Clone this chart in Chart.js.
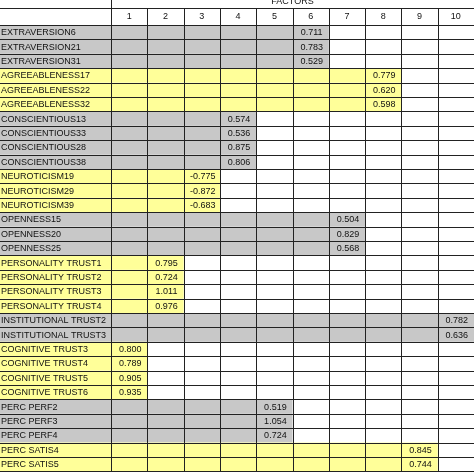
<!DOCTYPE html>
<html><head><meta charset="utf-8">
<script src="https://cdn.jsdelivr.net/npm/chart.js@4"></script>
<style>html,body{margin:0;padding:0;background:#fff}#w{width:474px;height:474px}</style>
</head><body><div id="w"><canvas id="c"></canvas></div>
<script>
const title = "FACTORS";
const factorLabels = ["1","2","3","4","5","6","7","8","9","10"];
const rowLabels = ["EXTRAVERSION6","EXTRAVERSION21","EXTRAVERSION31","AGREEABLENESS17","AGREEABLENESS22","AGREEABLENESS32",
 "CONSCIENTIOUS13","CONSCIENTIOUS33","CONSCIENTIOUS28","CONSCIENTIOUS38","NEUROTICISM19","NEUROTICISM29","NEUROTICISM39",
 "OPENNESS15","OPENNESS20","OPENNESS25","PERSONALITY TRUST1","PERSONALITY TRUST2","PERSONALITY TRUST3","PERSONALITY TRUST4",
 "INSTITUTIONAL TRUST2","INSTITUTIONAL TRUST3","COGNITIVE TRUST3","COGNITIVE TRUST4","COGNITIVE TRUST5","COGNITIVE TRUST6",
 "PERC PERF2","PERC PERF3","PERC PERF4","PERC SATIS4","PERC SATIS5"];
const rowFactor = [6,6,6,8,8,8,4,4,4,4,3,3,3,7,7,7,2,2,2,2,10,10,1,1,1,1,5,5,5,9,9];
const loadings = ["0.711","0.783","0.529","0.779","0.620","0.598","0.574","0.536","0.875","0.806","-0.775","-0.872","-0.683",
 "0.504","0.829","0.568","0.795","0.724","1.011","0.976","0.782","0.636","0.800","0.789","0.905","0.935","0.519","1.054","0.724","0.845","0.744"];
const rowShade = ["g","g","g","y","y","y","g","g","g","g","y","y","y","g","g","g","y","y","y","y","g","g","y","y","y","y","g","g","g","y","y"];
const shadeColors = {g:"#c8c8c8", y:"#ffff99"};
const LABEL_LEFT = -3.06;

const tablePlugin = {
  id:'table',
  beforeDatasetsDraw(chart){
    const {ctx, scales:{x,y}} = chart;
    const X = v=>x.getPixelForValue(v), Y = v=>y.getPixelForValue(v);
    ctx.save();
    // fills
    rowLabels.forEach((r,i)=>{
      ctx.fillStyle = shadeColors[rowShade[i]];
      ctx.fillRect(X(LABEL_LEFT), Y(i), X(rowFactor[i]) - X(LABEL_LEFT), Y(i+1)-Y(i));
    });
    // lines
    ctx.strokeStyle = "#222"; ctx.lineWidth = 1;
    const n = rowLabels.length;
    ctx.beginPath();
    const yHdrTop = -1.74, yNum = -1.15;
    for (let i = 0; i <= n; i++){ const yy=Math.round(Y(i))+0.5; ctx.moveTo(X(LABEL_LEFT),yy); ctx.lineTo(X(10.2),yy); }
    let yy=Math.round(Y(yNum))+0.5; ctx.moveTo(X(LABEL_LEFT),yy); ctx.lineTo(X(10.2),yy);
    for (let c = 0; c <= 10; c++){ const xx=Math.round(X(c))+0.5; ctx.moveTo(xx, c===0?Y(yHdrTop):Y(yNum)); ctx.lineTo(xx, Y(n)); }
    ctx.stroke();
    // text
    ctx.fillStyle = "#111";
    ctx.font = "9px 'Liberation Sans', Arial, sans-serif";
    ctx.textBaseline = "middle";
    ctx.textAlign = "center";
    ctx.fillText(title, X(5), Y(yHdrTop)+2);
    factorLabels.forEach((f,c)=>ctx.fillText(f, X(c+0.5), Y((yNum)/2)));
    ctx.textAlign = "left";
    rowLabels.forEach((r,i)=>ctx.fillText(r, X(LABEL_LEFT)+1, Y(i+0.5)+0.5));
    ctx.restore();
  },
  afterDatasetsDraw(chart){
    const {ctx} = chart;
    const meta = chart.getDatasetMeta(0);
    ctx.save();
    ctx.fillStyle = "#111";
    ctx.font = "9px 'Liberation Sans', Arial, sans-serif";
    ctx.textBaseline = "middle"; ctx.textAlign = "center";
    meta.data.forEach((p,i)=>ctx.fillText(loadings[i], p.x+1, p.y+0.5));
    ctx.restore();
  }
};

new Chart(document.getElementById('c'), {
  type:'scatter',
  data:{datasets:[{data: rowLabels.map((r,i)=>({x: rowFactor[i]-0.5, y: i+0.5})), pointRadius:0}]},
  options:{
    responsive:true, maintainAspectRatio:false, animation:false,
    layout:{padding:0},
    plugins:{legend:{display:false}, tooltip:{enabled:false}},
    scales:{
      x:{type:'linear', min:LABEL_LEFT, max:10, display:false},
      y:{type:'linear', min:-1.74, max:31.18, reverse:true, display:false}
    }
  },
  plugins:[tablePlugin]
});
</script></body></html>
